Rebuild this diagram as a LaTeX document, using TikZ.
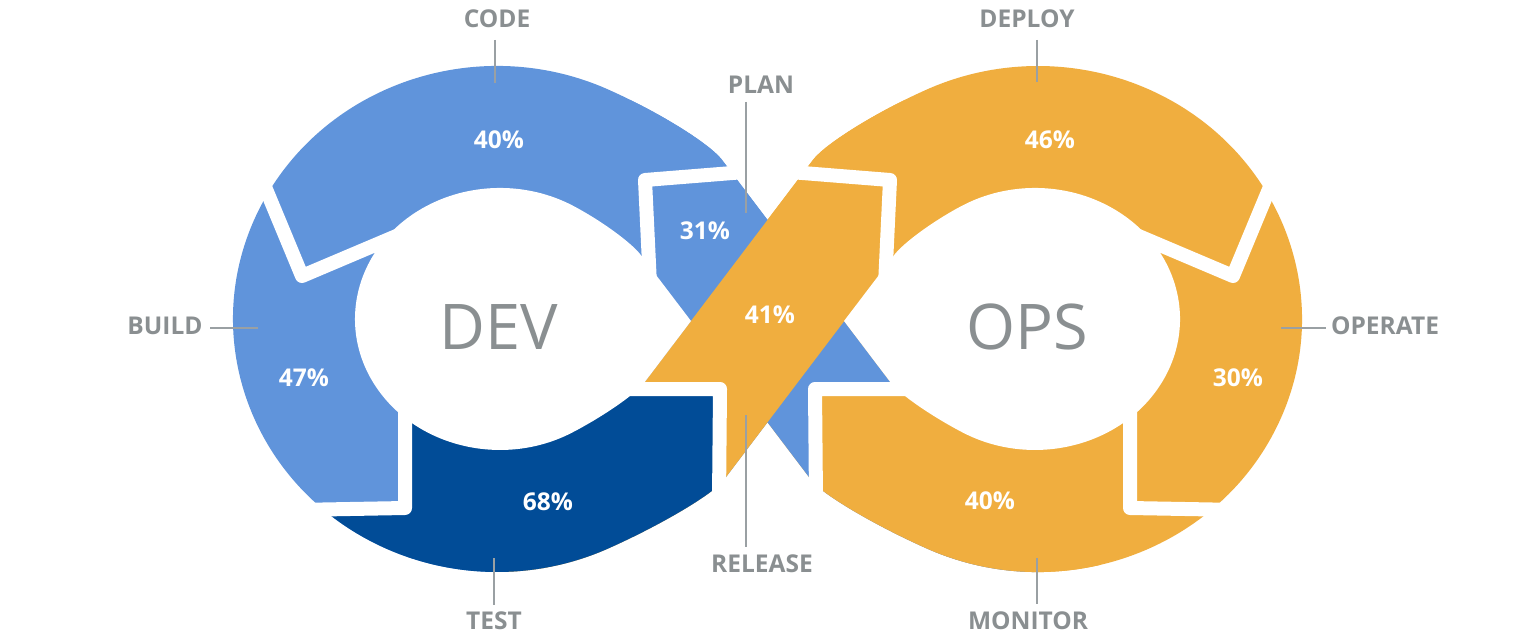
\documentclass[tikz,border=0pt]{standalone}
\usepackage{fontspec}
\setmainfont{Open Sans}
\definecolor{lblue}{HTML}{6094DB}
\definecolor{dblue}{HTML}{014C97}
\definecolor{orng}{HTML}{F0AE3F}
\definecolor{txtgrey}{HTML}{8A8F91}
\definecolor{tickgrey}{HTML}{9AA0A3}
\begin{document}
\begin{tikzpicture}[x=1pt,y=-1pt,
  sep/.style={white,line width=14pt,line join=round},
  lbl/.style={text=txtgrey,font=\fontsize{24.5}{28}\selectfont\bfseries,inner sep=0pt},
  pct/.style={text=white,font=\fontsize{24.5}{28}\selectfont\bfseries,inner sep=0pt},
  big/.style={text=txtgrey,font=\fontsize{63}{70}\selectfont,inner sep=0pt},
  tick/.style={tickgrey,line width=2pt}]
\useasboundingbox (0,0) rectangle (1536,639);
\fill[white] (0,0) rectangle (1536,639);
% band
\begin{scope}
\clip (767.5,219.9) -- (722.1,160) .. controls (709.6,143.6) and (658.6,112) .. (608.6,89.7)
  arc[start angle=-65,end angle=-295,x radius=264,y radius=253]
  .. controls (661.4,524.7) and (713.2,494) .. (723.8,480) -- (767.5,422.3) -- (811.2,480)
  .. controls (821.8,494) and (873.6,524.7) .. (926.4,548.3)
  arc[start angle=115,end angle=-115,x radius=264,y radius=253]
  .. controls (876.4,112) and (825.4,143.6) .. (812.9,160) -- cycle;
\fill[lblue] (0,0) rectangle (767.5,639);
\fill[orng] (767.5,0) rectangle (1536,639);
\fill[lblue] (676.6,100) -- (1131,700) -- (977.9,700) -- (523.3,100) -- cycle;
\fill[orng] (815,389) rectangle (1100,700);
\fill[orng] (858.4,100) -- (1011.7,100) -- (557.1,700) -- (403.8,700) -- cycle;
\fill[dblue] (405,380) -- (720,389) -- (720,700) -- (200,700) -- (200,508) -- (405,508) -- cycle;
\end{scope}
% holes
\fill[white] (691,321) -- (644,383) .. controls (635.6,394) and (603.4,416.3) .. (572.5,432.4)
  arc[start angle=60,end angle=300,x radius=145,y radius=131]
  .. controls (600.6,220.2) and (631.3,242.5) .. (640.8,255) -- cycle;
\fill[white] (844,321) -- (891,383) .. controls (899.4,394) and (931.6,416.3) .. (962.5,432.4)
  arc[start angle=120,end angle=-120,x radius=145,y radius=131]
  .. controls (934.4,220.2) and (903.7,242.5) .. (894.2,255) -- cycle;
% separators
\draw[sep] (258,170) -- (302,276) -- (420,226);
\draw[sep] (1277,170) -- (1233,276) -- (1115,226);
\draw[sep] (405,400) -- (405,508) -- (295,510);
\draw[sep] (1130,400) -- (1130,508) -- (1240,510);
\draw[sep] (745,172) -- (645,180) -- (650,285);
\draw[sep] (790,172) -- (890,180) -- (885,285);
\draw[sep] (630,389) -- (720,389) -- (719,500);
\draw[sep] (905,389) -- (815,389) -- (816,500);
% labels
\node[lbl] (code) at (497,19) {CODE};
\node[lbl] (plan) at (761,85) {PLAN};
\node[lbl] (deploy) at (1027,19) {DEPLOY};
\node[lbl] (build) at (165,326) {BUILD};
\node[lbl] (operate) at (1385,326) {OPERATE};
\node[lbl] (test) at (494,621) {TEST};
\node[lbl] (release) at (762,564) {RELEASE};
\node[lbl] (monitor) at (1028,621) {MONITOR};
% ticks
\coordinate (codeA) at (495,40);   \coordinate (codeB) at (495,83);
\coordinate (planA) at (746,102);  \coordinate (planB) at (746,213);
\coordinate (depA) at (1037,40);   \coordinate (depB) at (1037,82);
\coordinate (bldA) at (210,328);   \coordinate (bldB) at (258,328);
\coordinate (opA) at (1281,328);   \coordinate (opB) at (1326,328);
\coordinate (tstA) at (494,558);   \coordinate (tstB) at (494,605);
\coordinate (relA) at (746,415);   \coordinate (relB) at (746,547);
\coordinate (monA) at (1037,558);  \coordinate (monB) at (1037,604);
\draw[tick] (codeA) -- (codeB);
\draw[tick] (planA) -- (planB);
\draw[tick] (depA) -- (depB);
\draw[tick] (bldA) -- (bldB);
\draw[tick] (opA) -- (opB);
\draw[tick] (tstA) -- (tstB);
\draw[tick] (relA) -- (relB);
\draw[tick] (monA) -- (monB);
% percentages
\node[pct] (p40a) at (499,140) {40\%};
\node[pct] (p31) at (705,231) {31\%};
\node[pct] (p47) at (304,378) {47\%};
\node[pct] (p68) at (548,502) {68\%};
\node[pct] (p41) at (770,315) {41\%};
\node[pct] (p46) at (1050,140) {46\%};
\node[pct] (p30) at (1238,378) {30\%};
\node[pct] (p40b) at (990,501) {40\%};
% centre words
\node[big] (dev) at (499,327) {DEV};
\node[big] (ops) at (1027,327) {OPS};
\end{tikzpicture}
\end{document}
